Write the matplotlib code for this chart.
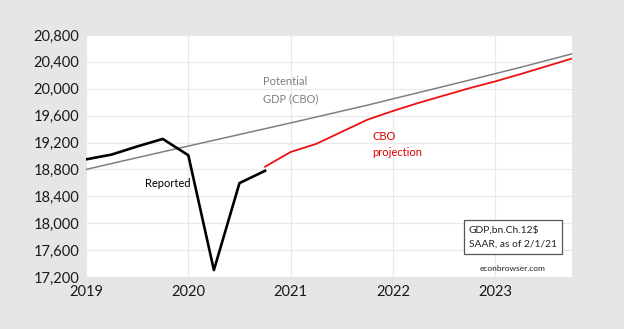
import matplotlib
matplotlib.use("Agg")
import matplotlib.pyplot as plt
import numpy as np
from matplotlib.ticker import FuncFormatter

plt.rcParams['font.family'] = ['Lato', 'DejaVu Sans']

# Quarterly data (billions of chained 2012 $, SAAR)
reported_q = ["2019Q1", "2019Q2", "2019Q3", "2019Q4", "2020Q1", "2020Q2", "2020Q3", "2020Q4"]
reported = [18950, 19021, 19142, 19254, 19011, 17303, 18597, 18780]

potential_q = ["2019Q1", "2019Q2", "2019Q3", "2019Q4", "2020Q1", "2020Q2", "2020Q3", "2020Q4",
               "2021Q1", "2021Q2", "2021Q3", "2021Q4", "2022Q1", "2022Q2", "2022Q3", "2022Q4",
               "2023Q1", "2023Q2", "2023Q3", "2023Q4"]
potential = [18800, 18888, 18975, 19062, 19148, 19234, 19320, 19406,
             19492, 19580, 19668, 19756, 19850, 19943, 20036, 20130,
             20225, 20320, 20420, 20520]

cbo_q = ["2020Q4", "2021Q1", "2021Q2", "2021Q3", "2021Q4", "2022Q1", "2022Q2", "2022Q3",
         "2022Q4", "2023Q1", "2023Q2", "2023Q3", "2023Q4"]
cbo = [18840, 19060, 19180, 19360, 19540, 19670, 19790, 19900,
       20010, 20110, 20220, 20335, 20450]

year_ticks = [2019, 2020, 2021, 2022, 2023]
y_ticks = [17200, 17600, 18000, 18400, 18800, 19200, 19600, 20000, 20400, 20800]


def qpos(labels):
    return [int(s[:4]) + (int(s[5]) - 1) / 4 for s in labels]


fig = plt.figure(figsize=(6.24, 3.29), dpi=100)
fig.patch.set_facecolor('#e6e6e6')
ax = fig.add_axes([86 / 624, 1 - 277 / 329, (572 - 86) / 624, (277 - 35) / 329])
ax.set_facecolor('white')

ax.plot(qpos(potential_q), potential, color='#808080', lw=1.1, zorder=3)
ax.plot(qpos(cbo_q), cbo, color='#ee1111', lw=1.3, zorder=3)
ax.plot(qpos(reported_q), reported, color='black', lw=1.9, zorder=4)

ax.set_xlim(2019, 2023.75)
ax.set_ylim(17200, 20800)
ax.set_xticks(year_ticks)
ax.set_xticklabels([str(y) for y in year_ticks])
ax.set_yticks(y_ticks)
ax.yaxis.set_major_formatter(FuncFormatter(lambda v, p: f"{int(v):,}"))
ax.grid(True, color='#e9e9e9', lw=0.9)
ax.set_axisbelow(True)
for s in ax.spines.values():
    s.set_visible(False)
ax.tick_params(axis='both', length=0, labelsize=10.5, colors='#1a1a1a')
ax.tick_params(axis='y', pad=5)
ax.tick_params(axis='x', pad=6)

ax.text(2020.73, 19980, "Potential\nGDP (CBO)", color='#808080', fontsize=8, va='center',
        ha='left', linespacing=1.6)
ax.text(2021.8, 19175, "CBO\nprojection", color='#e00000', fontsize=8, va='center',
        ha='left', linespacing=1.6)
ax.text(2019.58, 18590, "Reported", color='black', fontsize=8, va='center', ha='left')

ax.text(2022.74, 17790, "GDP,bn.Ch.12$\nSAAR, as of 2/1/21", color='#222222', fontsize=7.4,
        va='center', ha='left', linespacing=1.75,
        bbox=dict(boxstyle='square,pad=0.5', fc='white', ec='#555555', lw=0.9))
ax.text(2023.17, 17330, "econbrowser.com", color='#222222', fontsize=6, va='center', ha='center')

fig.savefig("out.png", dpi=100, facecolor=fig.get_facecolor())
